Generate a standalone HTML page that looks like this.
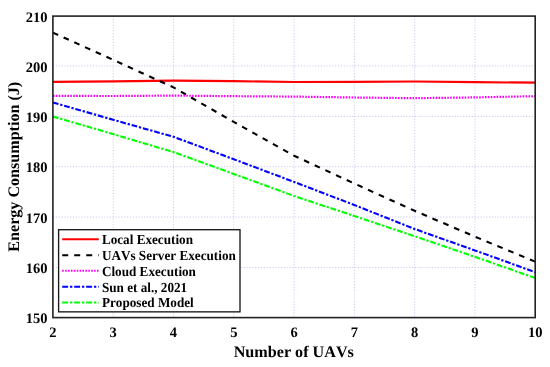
<!DOCTYPE html>
<html><head><meta charset="utf-8"><style>
html,body{margin:0;padding:0;background:#fff;}
svg{display:block;filter:blur(0.3px);}
text{font-family:"Liberation Serif",serif;font-weight:bold;fill:#000;font-kerning:none;text-rendering:geometricPrecision;}
</style></head><body>
<svg width="550" height="367" viewBox="0 0 550 367">
<rect width="550" height="367" fill="#fff"/>
<g stroke="#cbcbf5" stroke-width="1" stroke-dasharray="1.2 1.65" fill="none">
<line x1="113.19" y1="16.10" x2="113.19" y2="317.60"/>
<line x1="173.48" y1="16.10" x2="173.48" y2="317.60"/>
<line x1="233.76" y1="16.10" x2="233.76" y2="317.60"/>
<line x1="294.05" y1="16.10" x2="294.05" y2="317.60"/>
<line x1="354.34" y1="16.10" x2="354.34" y2="317.60"/>
<line x1="414.62" y1="16.10" x2="414.62" y2="317.60"/>
<line x1="474.91" y1="16.10" x2="474.91" y2="317.60"/>
<line x1="52.90" y1="267.40" x2="535.20" y2="267.40"/>
<line x1="52.90" y1="217.05" x2="535.20" y2="217.05"/>
<line x1="52.90" y1="166.70" x2="535.20" y2="166.70"/>
<line x1="52.90" y1="116.40" x2="535.20" y2="116.40"/>
<line x1="52.90" y1="66.00" x2="535.20" y2="66.00"/>
</g>
<g>
<polyline points="52.90,81.80 113.19,81.30 173.48,80.60 233.76,81.20 294.05,82.00 354.34,81.90 414.62,81.50 474.91,82.20 535.20,82.70" fill="none" stroke="#ff0000" stroke-width="2.2" stroke-linejoin="round"/>
<polyline points="52.90,32.60 113.19,59.86 173.48,87.40 233.76,121.90 294.05,155.70 354.34,183.55 414.62,210.80 474.91,236.60 535.20,261.60" fill="none" stroke="#000" stroke-width="2.1" stroke-dasharray="5.7 6.05" stroke-linejoin="round"/>
<polyline points="52.90,95.90 113.19,96.00 173.48,95.60 233.76,96.20 294.05,96.60 354.34,97.50 414.62,98.20 474.91,97.40 535.20,96.20" fill="none" stroke="#ff00ff" stroke-width="2.2" stroke-dasharray="1.6 1.3" stroke-linejoin="round"/>
<polyline points="52.90,102.40 113.19,119.80 173.48,136.80 233.76,159.20 294.05,181.90 354.34,205.00 414.62,229.00 474.91,250.40 535.20,272.20" fill="none" stroke="#0000ff" stroke-width="2.1" stroke-dasharray="5.8 1.8 2.3 1.8" stroke-linejoin="round"/>
<polyline points="52.90,116.50 113.19,134.10 173.48,152.10 233.76,173.90 294.05,196.00 354.34,216.00 414.62,236.20 474.91,256.80 535.20,278.00" fill="none" stroke="#00ff00" stroke-width="2.1" stroke-dasharray="5.8 1.8 2.3 1.8" stroke-linejoin="round"/>
</g>
<rect x="52.90" y="16.10" width="482.30" height="301.50" fill="none" stroke="#222" stroke-width="1.6"/>
<g style="font-size:13.18px">
<rect x="58.6" y="229.7" width="181.4" height="82.15" fill="#fff" stroke="#1a1a1a" stroke-width="1.35"/>
<line x1="62.2" y1="239.3" x2="98.8" y2="239.3" stroke="#ff0000" stroke-width="2" fill="none"/>
<text transform="translate(101.9 244.10) scale(1 1.05)">Local Execution</text>
<line x1="62.2" y1="255.2" x2="98.8" y2="255.2" stroke="#000" stroke-width="2" stroke-dasharray="6 6" fill="none"/>
<text transform="translate(101.9 260.00) scale(1 1.05)">UAVs Server Execution</text>
<line x1="62.2" y1="270.8" x2="98.8" y2="270.8" stroke="#ff00ff" stroke-width="2" stroke-dasharray="1.6 1.3" fill="none"/>
<text transform="translate(101.9 275.60) scale(1 1.05)">Cloud Execution</text>
<line x1="62.2" y1="286.7" x2="98.8" y2="286.7" stroke="#0000ff" stroke-width="2" stroke-dasharray="5.9 1.9 2.3 1.9" fill="none"/>
<text transform="translate(101.9 291.50) scale(1 1.05)">Sun et al., 2021</text>
<line x1="62.2" y1="302.5" x2="98.8" y2="302.5" stroke="#00ff00" stroke-width="2" stroke-dasharray="5.9 1.9 2.3 1.9" fill="none"/>
<text transform="translate(101.9 307.30) scale(1 1.05)">Proposed Model</text>
</g>
<g style="font-size:14.5px">
<text x="47.5" y="323.10" text-anchor="end">150</text>
<text x="47.5" y="272.85" text-anchor="end">160</text>
<text x="47.5" y="222.60" text-anchor="end">170</text>
<text x="47.5" y="172.35" text-anchor="end">180</text>
<text x="47.5" y="122.10" text-anchor="end">190</text>
<text x="47.5" y="71.85" text-anchor="end">200</text>
<text x="47.5" y="21.60" text-anchor="end">210</text>
<text x="52.90" y="337.3" text-anchor="middle">2</text>
<text x="113.19" y="337.3" text-anchor="middle">3</text>
<text x="173.48" y="337.3" text-anchor="middle">4</text>
<text x="233.76" y="337.3" text-anchor="middle">5</text>
<text x="294.05" y="337.3" text-anchor="middle">6</text>
<text x="354.34" y="337.3" text-anchor="middle">7</text>
<text x="414.62" y="337.3" text-anchor="middle">8</text>
<text x="474.91" y="337.3" text-anchor="middle">9</text>
<text x="535.20" y="337.3" text-anchor="middle">10</text>
</g>
<text x="293.75" y="356.6" text-anchor="middle" style="font-size:16.15px">Number of UAVs</text>
<text transform="translate(18.9 166.75) rotate(-90)" text-anchor="middle" style="font-size:16.1px">Energy Consumption (J)</text>
</svg>
</body></html>
